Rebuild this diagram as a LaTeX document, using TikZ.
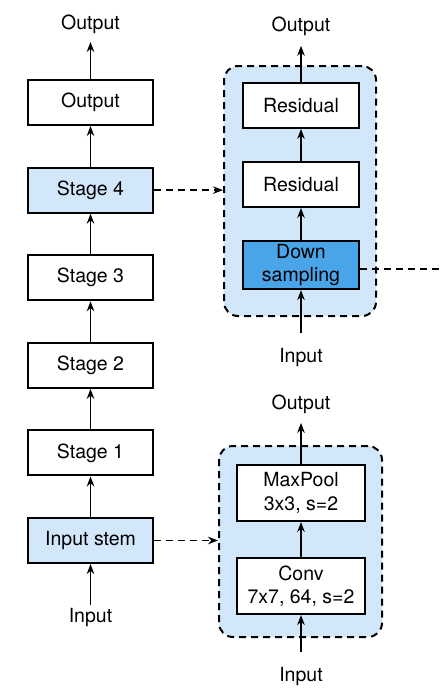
\documentclass[tikz,border=0pt]{standalone}
\usepackage{fontspec}
\setmainfont{TeX Gyre Heros}
\usetikzlibrary{positioning,arrows.meta}
\definecolor{lightblue}{HTML}{D3E7FB}
\definecolor{darkblue}{HTML}{4AA5E8}

\begin{document}
\begin{tikzpicture}[x=1pt,y=1pt,font=\fontsize{19.5}{23.5}\selectfont,
    block/.style={draw,line width=2.1pt,fill=white,align=center,minimum width=125pt,minimum height=45pt,inner sep=2pt},
    group/.style={draw,line width=2pt,fill=lightblue,rounded corners=14pt,dash pattern=on 7pt off 5pt},
    lbl/.style={inner sep=3pt},
    arr/.style={line width=1.8pt,-{Stealth[length=10pt,width=7.5pt]}},
    darr/.style={line width=1.8pt,dash pattern=on 7pt off 5pt,-{Stealth[length=10pt,width=7.5pt]}},
    node distance=40.5pt]
\useasboundingbox (0,0) rectangle (441,-697);
% left column
\node[block, fill=lightblue](stem) at (90.5,-540.5){Input stem};
\node[block, above=of stem](s1){Stage 1};
\node[block, above=of s1](s2){Stage 2};
\node[block, above=of s2](s3){Stage 3};
\node[block, above=of s3, fill=lightblue](s4){Stage 4};
\node[block, above=of s4](out){Output};
\node[lbl, above=42pt of out](outtop){Output};
\node[lbl, below=41pt of stem](inbot){Input};
\draw[arr] (inbot) -- (stem);
\draw[arr] (stem) -- (s1);
\draw[arr] (s1) -- (s2);
\draw[arr] (s2) -- (s3);
\draw[arr] (s3) -- (s4);
\draw[arr] (s4) -- (out);
\draw[arr, shorten >=5pt] (out) -- (outtop);
% stage block
\node[group, minimum width=152pt, minimum height=250pt](stage) at (300,-191){};
\node[block, minimum width=116pt, minimum height=48pt, fill=darkblue](ds) at (301,-265){Down\\sampling};
\node[block, minimum width=116pt, above=32pt of ds](r1){Residual};
\node[block, minimum width=116pt, above=32pt of r1](r2){Residual};
\node[lbl, above=43pt of r2](stout){Output};
\node[lbl, below=55pt of ds](stin){Input};
\coordinate (edge) at (441,-269);
\draw[arr, shorten <=12pt] (stin) -- (ds);
\draw[arr] (ds) -- (r1);
\draw[arr] (r1) -- (r2);
\draw[arr, shorten >=7pt] (r2) -- (stout);
\draw[line width=1.8pt, dash pattern=on 7pt off 5pt] (ds.east |- edge) -- (edge);
% stem block
\node[group, minimum width=163pt, minimum height=191pt](stemgrp) at (300.5,-541.5){};
\node[block, minimum width=128pt, minimum height=56pt](conv) at (301,-586){Conv\\7x7, 64, s=2};
\node[block, minimum width=128pt, minimum height=56pt, above=35pt of conv](pool){MaxPool\\3x3, s=2};
\node[lbl, above=47pt of pool](poolout){Output};
\node[lbl, below=49pt of conv](convin){Input};
\draw[arr, shorten <=12pt] (convin) -- (conv);
\draw[arr] (conv) -- (pool);
\draw[arr, shorten >=6pt] (pool) -- (poolout);
% links
\draw[darr] (s4.east) -- (s4.east -| stage.west);
\draw[darr] (stem.east) -- (stem.east -| stemgrp.west);
\end{tikzpicture}
\end{document}
